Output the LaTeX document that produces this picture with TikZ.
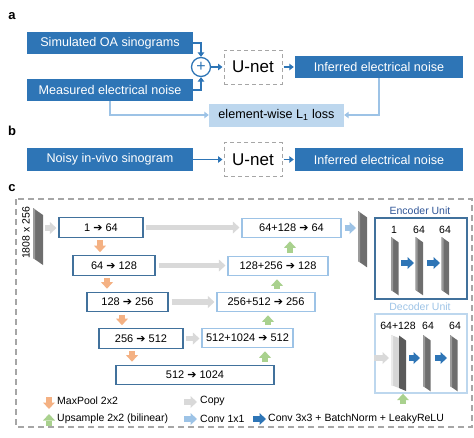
\documentclass[tikz,border=0pt]{standalone}
\usepackage{fontspec}
\setmainfont{Liberation Sans}
\newfontfamily\dvs{DejaVu Sans}
\usetikzlibrary{arrows.meta,calc}
\definecolor{dblue}{HTML}{2E75B6}
\definecolor{lblue}{HTML}{9DC3E6}
\definecolor{llblue}{HTML}{BDD7EE}
\definecolor{orng}{HTML}{F4B183}
\definecolor{grn}{HTML}{A9D18E}
\definecolor{lgray}{HTML}{D9D9D9}
\definecolor{framegray}{HTML}{A6A6A6}
\definecolor{steel}{HTML}{41719C}
\definecolor{enctitle}{HTML}{2F5597}
\definecolor{slabfront}{HTML}{6E6E6E}
\definecolor{slabside}{HTML}{9B9B9B}
\definecolor{slabdark}{HTML}{5A5A5A}
\definecolor{slablight}{HTML}{D6D6D6}
\definecolor{slablightside}{HTML}{EBEBEB}
\newcommand{\harr}{{\dvs ➔}}
\newcommand{\plate}[6]{%
  \fill[#1] (#3,#4) -- ++(#5,0.7*#5) -- ++(0,#6) -- ++(-#5,-0.7*#5) -- cycle;
  \fill[#2] (#3,#4) -- ++(2,1.4) -- ++(0,#6) -- ++(-2,-1.4) -- cycle;
}
\begin{document}
\begin{tikzpicture}[x=1pt,y=-1pt,
  abox/.style={fill=dblue,text=white,minimum width=166pt,minimum height=22.5pt,inner sep=0pt,font=\fontsize{12.6}{14}\selectfont},
  unetbox/.style={draw=framegray,dash pattern=on 4pt off 3pt,line width=1pt,minimum width=58pt,minimum height=34pt,inner sep=0pt,font=\fontsize{17}{19}\selectfont},
  conn/.style={draw=dblue,line width=1.5pt,-{Triangle[width=6.5pt,length=4.5pt]}},
  lconn/.style={draw=lblue,line width=1.5pt,-{Triangle[width=6.5pt,length=4.5pt]}},
  encbox/.style={draw=steel,line width=1.1pt,fill=white,minimum height=19.5pt,inner sep=0pt,font=\fontsize{11}{13}\selectfont},
  decbox/.style={encbox,draw=lblue},
  blk/.style={line width=5.5pt,-{Triangle[width=12pt,length=6.5pt,line width=0pt]}},
  lbl/.style={inner sep=0pt,font=\fontsize{13}{15}\selectfont\bfseries},
  legtext/.style={anchor=west,inner sep=0pt,font=\fontsize{10.5}{12}\selectfont},
  unittext/.style={inner sep=0pt,font=\fontsize{10.5}{12}\selectfont},
]
\useasboundingbox (0,0) rectangle (474,437);
% ---------- panel a ----------
\node[lbl] (la) at (12,16) {a};
\node[abox] (sim) at (110,43) {Simulated OA sinograms};
\node[abox] (meas) at (110,90) {Measured electrical noise};
\node[circle,draw=dblue,line width=1.3pt,fill=white,minimum size=19pt,inner sep=0pt,text=dblue,font=\fontsize{16}{16}\selectfont] (plus) at (201,67) {\raisebox{-0.5pt}{+}};
\node[unetbox] (unet1) at (253,67) {U-net};
\node[abox,minimum width=168pt] (inf1) at (379,67) {Inferred electrical noise};
\node[fill=llblue,minimum width=135pt,minimum height=23pt,inner sep=0pt,font=\fontsize{12.6}{14}\selectfont] (loss) at (276.5,115) {element-wise L\textsubscript{1} loss};
\draw[conn] (sim.east) -| (plus.north);
\draw[conn] (meas.east) -| (plus.south);
\draw[conn,shorten >=1pt] (plus.east) -- (unet1.west);
\draw[conn,shorten <=1pt,shorten >=1pt] (unet1.east) -- (inf1.west);
\draw[lconn] (meas.south) |- (loss.west);
\draw[lconn] (inf1.south) |- (loss.east);
% ---------- panel b ----------
\node[lbl] (lb) at (12,131) {b};
\node[abox] (noisy) at (110,159.5) {Noisy in-vivo sinogram};
\node[unetbox] (unet2) at (253,159.5) {U-net};
\node[abox,minimum width=168pt] (inf2) at (379,159.5) {Inferred electrical noise};
\draw[conn,shorten >=1pt] (noisy.east) -- (unet2.west);
\draw[conn,shorten <=1pt,shorten >=1pt] (unet2.east) -- (inf2.west);
% ---------- panel c ----------
\node[lbl] (lc) at (12,188) {c};
\draw[framegray,line width=1.3pt,dash pattern=on 6pt off 4pt] (16,199) rectangle (472,427);
% input slab
\plate{slabfront}{slabside}{33}{208}{10}{50}
\node[rotate=90,inner sep=0pt,font=\fontsize{10.5}{12}\selectfont] (insize) at (26,233) {1808 x 256};
\coordinate (inR) at (45,228);
% encoder column
\node[encbox,minimum width=84pt] (e1) at (101,227.5) {1 \harr{} 64};
\node[encbox,minimum width=82pt] (e2) at (114,265.5) {64 \harr{} 128};
\node[encbox,minimum width=81pt] (e3) at (127.5,302) {128 \harr{} 256};
\node[encbox,minimum width=84pt] (e4) at (141,338.5) {256 \harr{} 512};
\node[encbox,minimum width=158pt] (b5) at (195,375) {512 \harr{} 1024};
% decoder column
\node[decbox,minimum width=99pt] (d1) at (291.5,228) {64+128 \harr{} 64};
\node[decbox,minimum width=100pt] (d2) at (278,266) {128+256 \harr{} 128};
\node[decbox,minimum width=98pt] (d3) at (266,302) {256+512 \harr{} 256};
\node[decbox,minimum width=91pt] (d4) at (247.5,338) {512+1024 \harr{} 512};
% input arrow
\draw[blk,lgray,shorten >=2pt] (inR) -- (inR -| e1.west);
% maxpool arrows
\draw[blk,orng,shorten <=2.5pt,shorten >=3pt] ([xshift=-1pt]e1.south) -- ([xshift=-1pt]e1.south |- e2.north);
\draw[blk,orng,shorten <=2.5pt,shorten >=3pt] ([xshift=-7pt]e2.south) -- ([xshift=-7pt]e2.south |- e3.north);
\draw[blk,orng,shorten <=2.5pt,shorten >=3pt] ([xshift=-5.5pt]e3.south) -- ([xshift=-5.5pt]e3.south |- e4.north);
\draw[blk,orng,shorten <=2.5pt,shorten >=3pt] ([xshift=-9pt]e4.south) -- ([xshift=-9pt]e4.south |- b5.north);
% upsample arrows
\draw[blk,grn,shorten <=2.5pt,shorten >=3pt] ([xshift=70pt]b5.north) -- ([xshift=70pt]b5.north |- d4.south);
\draw[blk,grn,shorten <=2.5pt,shorten >=3pt] ([xshift=20.5pt]d4.north) -- ([xshift=20.5pt]d4.north |- d3.south);
\draw[blk,grn,shorten <=2.5pt,shorten >=3pt] ([xshift=11pt]d3.north) -- ([xshift=11pt]d3.north |- d2.south);
\draw[blk,grn,shorten <=2.5pt,shorten >=3pt] ([xshift=12pt]d2.north) -- ([xshift=12pt]d2.north |- d1.south);
% copy arrows
\draw[blk,lgray,shorten <=2pt,shorten >=2pt] (e1.east) -- (e1.east -| d1.west);
\draw[blk,lgray,shorten <=3pt,shorten >=2pt] (e2.east) -- (e2.east -| d2.west);
\draw[blk,lgray,shorten <=3pt,shorten >=2pt] (e3.east) -- (e3.east -| d3.west);
\draw[blk,lgray,shorten <=2.5pt,shorten >=2pt] (e4.east) -- (e4.east -| d4.west);
% output
\plate{slabfront}{slabside}{358}{211}{9}{50}
\coordinate (outL) at (356,228);
\draw[blk,lblue,shorten <=3pt] (d1.east) -- (outL);
% encoder unit
\node[unittext,text=enctitle] (enct) at (420,211) {Encoder Unit};
\node[draw=steel,line width=1.4pt,minimum width=92pt,minimum height=81pt,inner sep=0pt] (encu) at (421,258.5) {};
\node[unittext] (en1) at (394,229.5) {1};
\node[unittext] (en2) at (419,229.5) {64};
\node[unittext] (en3) at (445,229.5) {64};
\plate{slabfront}{slabside}{391}{237}{7.5}{53}
\plate{slabfront}{slabside}{415.5}{237}{7.5}{53}
\plate{slabfront}{slabside}{441.5}{237}{7.5}{53}
\draw[blk,dblue] (401,263) -- (414,263);
\draw[blk,dblue] (427,263) -- (440,263);
% decoder unit
\node[unittext,text=lblue] (dect) at (420,307) {Decoder Unit};
\node[draw=llblue,line width=1.4pt,minimum width=92pt,minimum height=79pt,inner sep=0pt] (decu) at (421,353.5) {};
\node[unittext] (de1) at (398,325.5) {64+128};
\node[unittext] (de2) at (428,325.5) {64};
\node[unittext] (de3) at (455,325.5) {64};
\fill[slablight] (391,335) -- (399,338) -- (399,388) -- (391,385) -- cycle;
\fill[slablightside] (391,335) -- (393,336) -- (393,386) -- (391,385) -- cycle;
\fill[slabdark] (399,335.5) -- (406,340.5) -- (406,391) -- (399,388) -- cycle;
\plate{slabfront}{slabside}{423}{335}{7.5}{51}
\plate{slabfront}{slabside}{450}{335}{7.5}{51}
\draw[blk,lgray] (decu.west |- 0,358) -- (389,358);
\draw[blk,dblue] (409,358) -- (420,358);
\draw[blk,dblue] (435,358) -- (447,358);
\draw[blk,grn] (403,404) -- (decu.south -| 403,0);
% legend
\draw[blk,orng] (49,397) -- (49,409);
\node[legtext] (t1) at (57,401) {MaxPool 2x2};
\draw[blk,grn] (49,426) -- (49,414);
\node[legtext] (t2) at (57,419) {Upsample 2x2 (bilinear)};
\draw[blk,lgray] (184,402) -- (197,402);
\node[legtext] (t3) at (200,401) {Copy};
\draw[blk,lblue] (184,419) -- (197,419);
\node[legtext] (t4) at (200,419) {Conv 1x1};
\draw[blk,dblue] (253,419) -- (266,419);
\node[legtext] (t5) at (268,419) {Conv 3x3 + BatchNorm + LeakyReLU};
\end{tikzpicture}
\end{document}
